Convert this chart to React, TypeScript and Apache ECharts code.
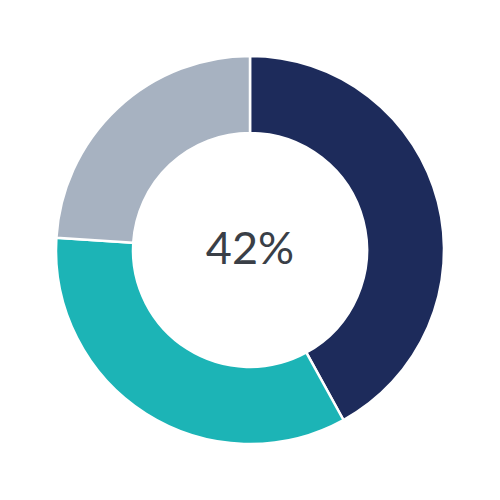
import React, { useEffect, useRef } from "react";
import * as echarts from "echarts";

const categories = ["A", "B", "C"];
const values = [42, 34, 24];
const colors = ["#1d2b5b", "#1cb4b6", "#a7b2c1"];
const centerLabel = "42%";

export default function App() {
  const ref = useRef<HTMLDivElement>(null);
  useEffect(() => {
    if (!ref.current) return;
    const chart = echarts.init(ref.current, undefined, { renderer: "svg" });
    chart.setOption({
      animation: false,
      backgroundColor: "#ffffff",
      graphic: [
        {
          type: "text",
          x: 250,
          y: 247,
          style: {
            text: centerLabel,
            fontFamily: "Lato",
            fontWeight: 400,
            fontSize: 45,
            fill: "#3a3f47",
            align: "center",
            verticalAlign: "middle",
          },
        },
      ],
      series: [
        {
          type: "pie",
          center: [250, 250],
          radius: [117, 194],
          startAngle: 90,
          clockwise: true,
          label: { show: false },
          labelLine: { show: false },
          itemStyle: { borderColor: "#ffffff", borderWidth: 2.5 },
          data: categories.map((c, i) => ({
            name: c,
            value: values[i],
            itemStyle: { color: colors[i] },
          })),
        },
      ],
    });
    return () => chart.dispose();
  }, []);
  return (
    <div
      ref={ref}
      style={{ position: "fixed", left: 0, top: 0, width: 500, height: 500 }}
    />
  );
}
